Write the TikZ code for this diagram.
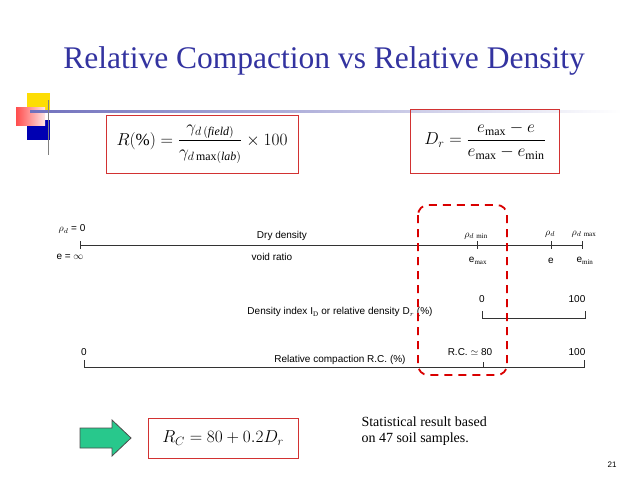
\documentclass[tikz,border=0pt]{standalone}
\usepackage{amsmath}
\usepackage{fontspec}
\setmainfont{Liberation Serif}
\newfontfamily\lsans{Liberation Sans}
\definecolor{ttl}{RGB}{51,51,160}
\definecolor{bred}{RGB}{210,50,50}
\definecolor{agreen}{RGB}{40,200,140}
\tikzset{lab/.style={font=\lsans\fontsize{10}{11}\selectfont,inner sep=0pt},
 fbox/.style={draw=bred,line width=0.8pt},
 axis/.style={line width=0.8pt,black!80}}
\begin{document}
\begin{tikzpicture}[x=1pt,y=-1pt]
\useasboundingbox (0,0) rectangle (638,479);
% decoration
\fill[yellow!80!orange] (27,93) rectangle (50,112);
\fill[blue!70!black] (27,120) rectangle (50,140);
\shade[left color=red!70, right color=red!10] (16,107) rectangle (45,125);
\shade[left color=ttl!70, right color=white] (30,110) rectangle (622,112);
\draw[gray,line width=1pt] (48,100) -- (48,155);
% title
\node[text=ttl,font=\fontsize{31.5}{34}\selectfont] (title) at (324,61) {Relative Compaction vs Relative Density};
% formula boxes
\node[fbox,minimum width=192,minimum height=58] (f1) at (202,144)
 {\fontsize{17}{19}\selectfont $R(\%)=\dfrac{\gamma_{d\,(\mathit{field})}}{\gamma_{d\max(\mathit{lab})}}\times100$};
\node[fbox,minimum width=149,minimum height=64] (f2) at (485,141)
 {\fontsize{17}{19}\selectfont $D_r=\dfrac{e_{\max}-e}{e_{\max}-e_{\min}}$};
% line 1
\coordinate (a0) at (80,245); \coordinate (a1) at (582,245);
\draw[axis] (a0) -- (a1);
\foreach \x in {80,477,551,582} \draw[axis] (\x,241) -- (\x,249);
\node[lab] (l1) at (72,229) {$\rho_d$ = 0};
\node[lab] (l2) at (70,257) {e = $\infty$};
\node[lab] (l3) at (282,236) {Dry density};
\node[lab] (l4) at (272,257) {void ratio};
\node[lab] (l5) at (476,236) {$\rho_{d\ \mathrm{min}}$};
\node[lab] (l6) at (478,261) {e$_{\mathrm{max}}$};
\node[lab] (l7) at (550,234) {$\rho_d$};
\node[lab] (l8) at (584,234) {$\rho_{d\ \mathrm{max}}$};
\node[lab] (l9) at (551,261) {e};
\node[lab] (l10) at (585,261) {e$_{\mathrm{min}}$};
% line 2
\draw[axis] (482,311) -- (482,318) -- (585,318) -- (585,311);
\node[lab] (m1) at (340,312) {Density index I$_{\mathrm D}$ or relative density D$_r$ (\%)};
\node[lab] (m2) at (482,299) {0};
\node[lab] (m3) at (577,299) {100};
% line 3
\draw[axis] (84,360) -- (84,367) -- (584,367) -- (584,360);
\draw[axis] (483,362) -- (483,367);
\node[lab] (n1) at (84,352) {0};
\node[lab] (n2) at (340,360) {Relative compaction R.C. (\%)};
\node[lab] (n3) at (470,352) {R.C. $\simeq$ 80};
\node[lab] (n4) at (577,352) {100};
% dashed highlight
\draw[red!85!black,line width=1.8pt,dash pattern=on 8pt off 6pt,rounded corners=10pt] (418,205) rectangle (507,375);
% bottom
\draw[black!70,fill=agreen,line width=0.8pt] (80,428) -- (112,428) -- (112,420) -- (131,438) -- (112,456) -- (112,448) -- (80,448) -- cycle;
\node[fbox,minimum width=150,minimum height=40] (f3) at (223,438) {\fontsize{18}{20}\selectfont $R_C=80+0.2D_r$};
\node[align=left,anchor=west,font=\fontsize{14}{16}\selectfont] (st) at (358,431) {Statistical result based\\on 47 soil samples.};
\node[font=\lsans\fontsize{8}{9}\selectfont] (pg) at (612,465) {21};
\end{tikzpicture}
\end{document}
